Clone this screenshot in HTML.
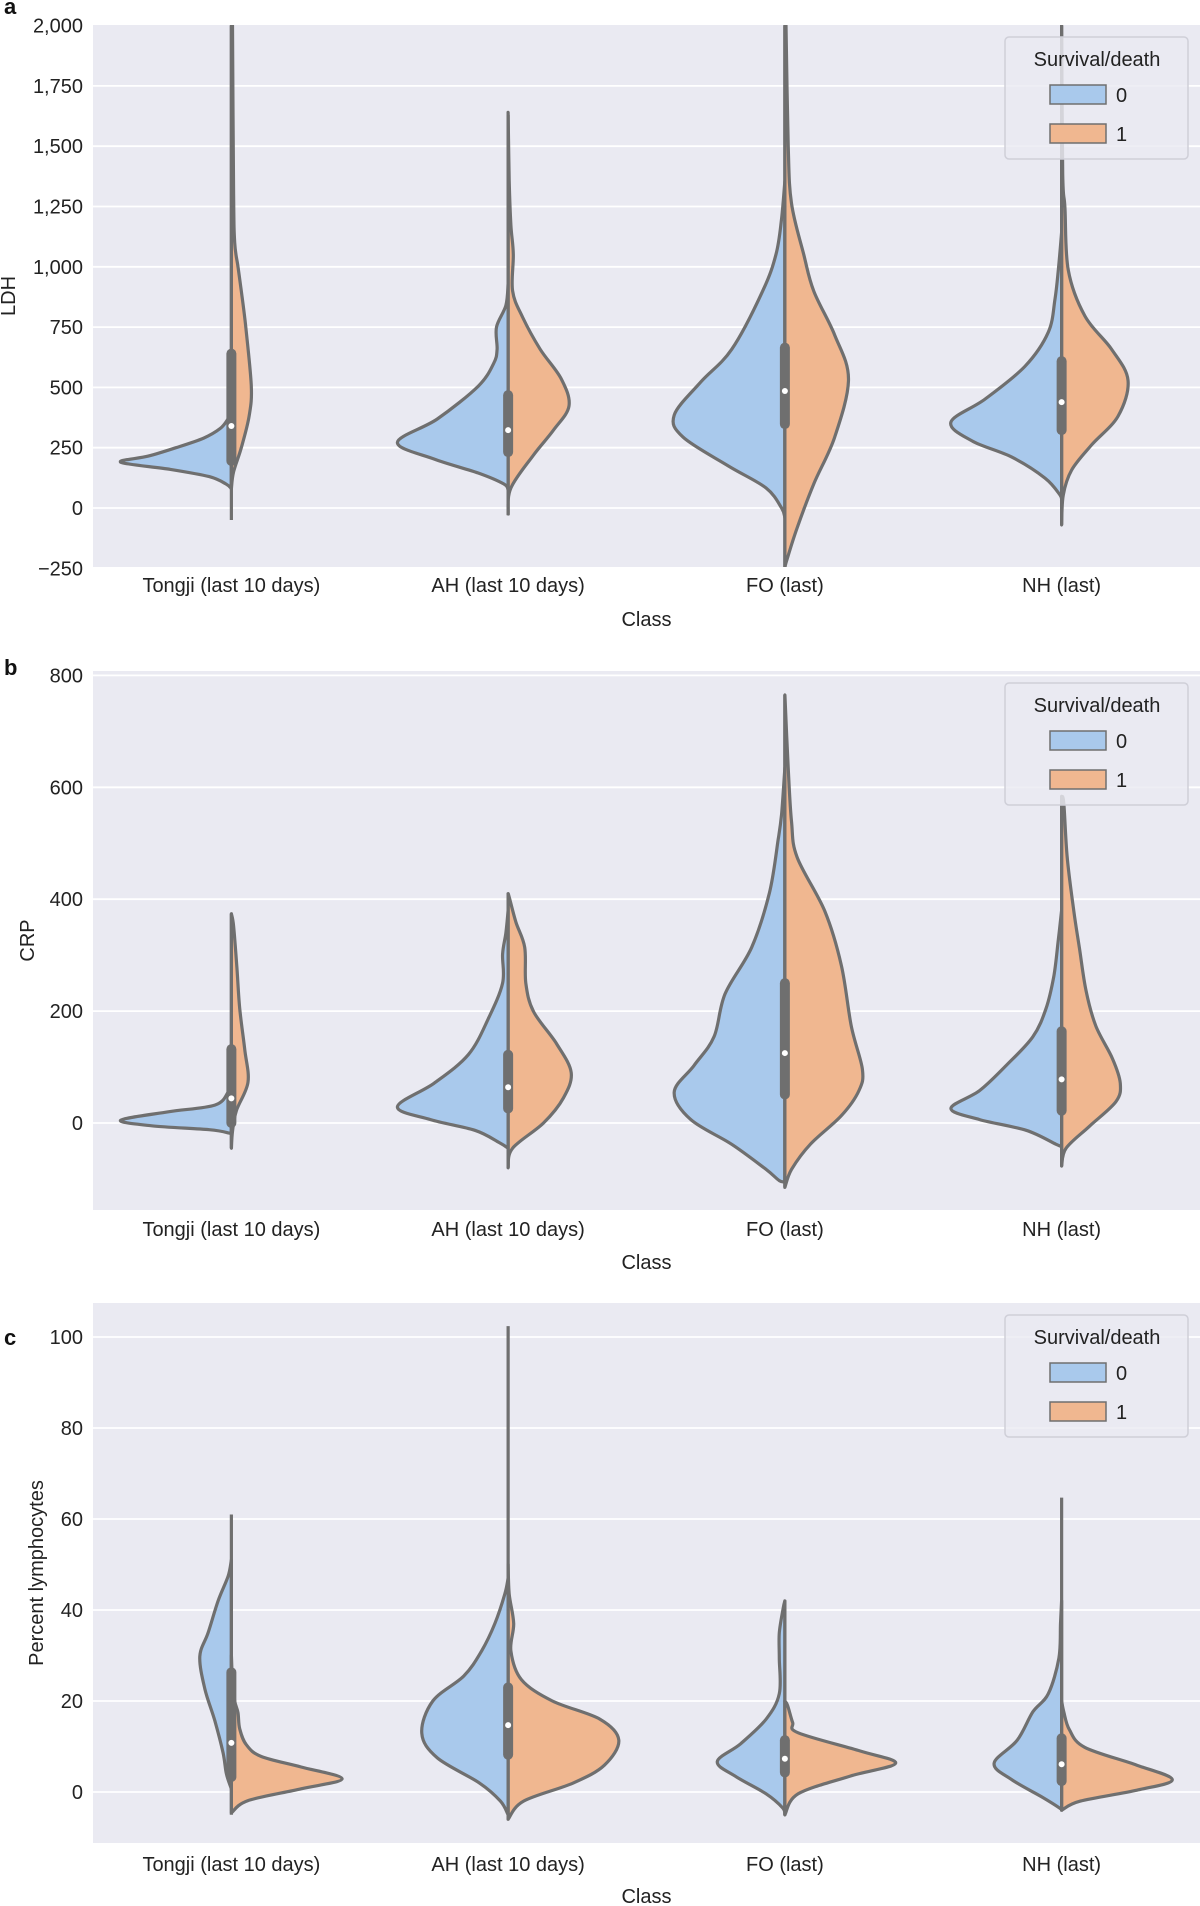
<!DOCTYPE html>
<html><head><meta charset="utf-8"><style>
html,body{margin:0;padding:0;background:#fff;}
svg{display:block;font-family:"Liberation Sans",Arial,sans-serif;}
</style></head><body>
<svg id="chart" width="1200" height="1906" viewBox="0 0 1200 1906" xmlns="http://www.w3.org/2000/svg"></svg>
<script>
const categories = ["Tongji (last 10 days)","AH (last 10 days)","FO (last)","NH (last)"];
const hueLabels = ["0","1"];

// Panel a: LDH  [value, relative density]
const ldhBlue = [
 [[80,0],[100,0.05],[130,0.2],[160,0.55],[190,1.0],[215,0.75],[250,0.5],[290,0.25],[330,0.1],[370,0.03],[400,0]],
 [[75,0],[100,0.04],[145,0.27],[203,0.67],[272,1.0],[369,0.64],[505,0.27],[600,0.13],[658,0.1],[750,0.105],[840,0.02],[930,0]],
 [[-40,0],[0,0.03],[83,0.17],[174,0.51],[294,0.92],[385,1.0],[522,0.76],[658,0.48],[900,0.2],[1052,0.08],[1200,0.03],[1355,0]],
 [[30,0],[54,0.015],[124,0.15],[211,0.45],[278,0.81],[356,1.0],[452,0.69],[588,0.33],[729,0.12],[866,0.06],[986,0.03],[1143,0]]
];
const ldhOrange = [
 [[80,0],[150,0.02],[250,0.09],[380,0.16],[505,0.18],[750,0.13],[900,0.09],[1000,0.06],[1100,0.03],[1300,0.02],[2000,0.01]],
 [[-25,0],[83,0.025],[220,0.23],[323,0.41],[423,0.55],[535,0.48],[658,0.29],[792,0.13],[900,0.04],[1052,0.047],[1172,0.025],[1355,0.01],[1640,0]],
 [[-250,0],[-220,0.015],[-83,0.11],[99,0.26],[294,0.45],[535,0.575],[717,0.45],[900,0.26],[1052,0.17],[1263,0.06],[1504,0.03],[2000,0.01]],
 [[-70,0],[54,0.015],[157,0.09],[261,0.27],[381,0.51],[530,0.6],[659,0.45],[796,0.21],[986,0.06],[1247,0.03],[1384,0.01],[2000,0]]
];
// box: q1, median, q3, whiskerMin, whiskerMax
const ldhBox = [[195,340,640,-50,2000],[232,323,468,-30,1630],[348,485,665,-250,2000],[323,439,609,-70,2000]];
const ldhTicks = [-250,0,250,500,750,1000,1250,1500,1750,2000];
const ldhTickLabels = ["\u2212250","0","250","500","750","1,000","1,250","1,500","1,750","2,000"];

// Panel b: CRP
const crpBlue = [
 [[-20,0],[-18,0.02],[-12,0.2],[-5,0.72],[5,1.0],[20,0.57],[32,0.15],[55,0.03],[70,0]],
 [[-45,0],[-35,0.08],[-13,0.3],[6,0.7],[29,1.0],[71,0.67],[122,0.36],[186,0.18],[250,0.05],[302,0.05],[340,0.02],[380,0]],
 [[-105,0],[-103,0.05],[-83,0.17],[-38,0.48],[6,0.85],[55,1.0],[103,0.82],[154,0.64],[231,0.54],[314,0.3],[411,0.14],[507,0.06],[552,0.03],[635,0]],
 [[-42,0],[-38,0.05],[-13,0.32],[6,0.74],[26,1.0],[58,0.74],[103,0.5],[154,0.26],[205,0.14],[263,0.07],[327,0.03],[380,0]]
];
const crpOrange = [
 [[-45,0],[-15,0.01],[22,0.045],[73,0.15],[132,0.12],[205,0.075],[278,0.05],[352,0.02],[374,0]],
 [[-80,0],[-45,0.04],[0,0.32],[45,0.5],[90,0.57],[141,0.44],[199,0.23],[250,0.16],[314,0.15],[359,0.07],[404,0.01],[410,0]],
 [[-115,0],[-83,0.06],[-38,0.23],[13,0.51],[58,0.67],[96,0.7],[173,0.6],[282,0.51],[379,0.36],[475,0.11],[539,0.06],[635,0.03],[765,0]],
 [[-77,0],[-45,0.04],[-6,0.25],[38,0.49],[71,0.53],[115,0.46],[173,0.31],[237,0.22],[314,0.16],[379,0.11],[475,0.05],[571,0.02],[584,0]]
];
const crpBox = [[0,44,132,-45,374],[26,64,122,-80,410],[51,125,250,-115,765],[22,78,164,-77,580]];
const crpTicks = [0,200,400,600,800];
const crpTickLabels = ["0","200","400","600","800"];

// Panel c: Percent lymphocytes
const lymBlue = [
 [[0.7,0],[4,0.045],[8.6,0.075],[15.7,0.15],[22.7,0.24],[29.8,0.285],[35,0.21],[42,0.12],[47.4,0.03],[51,0]],
 [[-5,0],[-2,0.07],[2,0.26],[7.5,0.64],[12.9,0.78],[20,0.68],[25.5,0.4],[31,0.24],[37,0.12],[43.5,0.03],[47,0]],
 [[-5,0],[-3.5,0.02],[-0.4,0.17],[3.5,0.45],[6.7,0.61],[10.6,0.4],[16,0.17],[21.6,0.05],[29.4,0.05],[35,0.05],[40.4,0.015],[42,0]],
 [[-4,0],[-3.5,0.02],[-1.2,0.17],[2.7,0.45],[6.3,0.61],[11.4,0.4],[17.6,0.26],[21.6,0.12],[29.4,0.025],[37,0.01],[42,0]]
];
const lymOrange = [
 [[-4.6,0],[-1.9,0.15],[0.7,0.63],[2.9,1.0],[5.5,0.63],[7.8,0.27],[10.4,0.135],[13.9,0.075],[17.4,0.06],[20,0.03],[24.5,0.01],[30,0]],
 [[-6,0],[-2,0.14],[2,0.59],[5.9,0.87],[11.4,1.0],[16,0.83],[20,0.4],[24.7,0.12],[31,0.025],[37,0.05],[43.5,0.01],[50,0]],
 [[-5,0],[-0.4,0.12],[3.5,0.59],[6.3,1.0],[9,0.68],[13,0.12],[15.3,0.07],[19,0.025],[20,0]],
 [[-4,0],[-2,0.17],[0.4,0.68],[2.7,1.0],[5.9,0.68],[9.8,0.21],[13.7,0.07],[17.6,0.02],[20,0]]
];
const lymBox = [[3.3,10.8,26.3,-5,61],[8.2,14.7,23,-6,102.4],[4.3,7.3,11.4,-5,42],[2.4,6.1,11.8,-4,64.7]];
const lymTicks = [0,20,40,60,80,100];
const lymTickLabels = ["0","20","40","60","80","100"];

const NS = "http://www.w3.org/2000/svg";
const svg = document.getElementById("chart");
const BLUE = "#a9c9ec", ORANGE = "#f0b790", EDGE = "#6f6f6f";
const FS = 20;

function mk(tag, attrs, parent) {
  const e = document.createElementNS(NS, tag);
  for (const k in attrs) e.setAttribute(k, attrs[k]);
  (parent || svg).appendChild(e);
  return e;
}
function txt(str, attrs, parent) { const t = mk("text", attrs, parent); t.textContent = str; return t; }

function smoothPath(pts) {
  let d = "M" + pts[0][0].toFixed(1) + "," + pts[0][1].toFixed(1);
  for (let i = 0; i < pts.length - 1; i++) {
    const p0 = pts[i - 1] || pts[i], p1 = pts[i], p2 = pts[i + 1], p3 = pts[i + 2] || p2;
    const c1x = p1[0] + (p2[0] - p0[0]) / 6, c1y = p1[1] + (p2[1] - p0[1]) / 6;
    const c2x = p2[0] - (p3[0] - p1[0]) / 6, c2y = p2[1] - (p3[1] - p1[1]) / 6;
    d += " C" + c1x.toFixed(1) + "," + c1y.toFixed(1) + " " + c2x.toFixed(1) + "," + c2y.toFixed(1) + " " + p2[0].toFixed(1) + "," + p2[1].toFixed(1);
  }
  return d;
}

const X0 = 93, X1 = 1200;
const band = (X1 - X0) / categories.length;
const HALF = band * 0.4;
function xCenter(i) { return X0 + band * (i + 0.5); }

function drawPanel(cfg) {
  const g = mk("g", {});
  
  
  const y = v => cfg.zeroY - v * cfg.pxPerUnit;
  const bg = mk("rect", {x: X0, y: cfg.top, width: X1 - X0, height: cfg.bottom - cfg.top, fill: "#eaeaf2"}, g);
  
  
  const clipId = "clip-" + cfg.name;
  const cp = mk("clipPath", {id: clipId}, g);
  mk("rect", {x: X0, y: cfg.top, width: X1 - X0, height: cfg.bottom - cfg.top}, cp);
  cfg.ticks.forEach((t, i) => {
    const yy = y(t);
    if (yy > cfg.top + 1 && yy < cfg.bottom - 1) {
      const gl = mk("line", {x1: X0, x2: X1, y1: yy, y2: yy, stroke: "#fff", "stroke-width": 1.8}, g);
      
      
    }
    const tl = txt(cfg.tickLabels[i], {x: 83, y: yy + 7, "text-anchor": "end", "font-size": FS, fill: "#222"}, g);
    
    
  });
  const vg = mk("g", {"clip-path": "url(#" + clipId + ")"}, g);
  categories.forEach((c, i) => {
    const cx = xCenter(i);
    [[cfg.blue[i], -1, BLUE, "survival"], [cfg.orange[i], 1, ORANGE, "death"]].forEach(([arr, dir, col, nm]) => {
      const pts = arr.map(p => [cx + dir * p[1] * HALF, y(p[0])]);
      const d = smoothPath(pts) + " L" + cx + "," + y(arr[arr.length - 1][0]) + " L" + cx + "," + y(arr[0][0]) + " Z";
      const path = mk("path", {d: d, fill: col, stroke: EDGE, "stroke-width": 3.2, "stroke-linejoin": "round"}, vg);
      
      
    });
    const b = cfg.box[i];
    const wh = mk("line", {x1: cx, x2: cx, y1: y(b[3]), y2: y(b[4]), stroke: EDGE, "stroke-width": 3.2}, vg);
    
    
    const bx = mk("line", {x1: cx, x2: cx, y1: y(b[0]), y2: y(b[2]), stroke: EDGE, "stroke-width": 10, "stroke-linecap": "round"}, vg);
    
    
    const md = mk("circle", {cx: cx, cy: y(b[1]), r: 3, fill: "#fff"}, vg);
    
    
    const xl = txt(c, {x: cx, y: cfg.tickY, "text-anchor": "middle", "font-size": FS, fill: "#222"}, g);
    
    
  });
  const xt = txt("Class", {x: (X0 + X1) / 2, y: cfg.classY, "text-anchor": "middle", "font-size": FS, fill: "#222"}, g);
  
  
  const cyl = (cfg.top + cfg.bottom) / 2 + cfg.ylabelShift;
  const yt = txt(cfg.ylabel, {x: cfg.ylabelX, y: cyl, "text-anchor": "middle", "font-size": FS, fill: "#222", transform: "rotate(-90 " + cfg.ylabelX + " " + cyl + ")"}, g);
  
  
  const pl = txt(cfg.letter, {x: 4, y: cfg.letterY, "font-size": 22, "font-weight": "bold", fill: "#111"}, g);
  
  
  // legend
  const lt = cfg.top + 12;
  const lg = mk("g", {}, g);
  
  
  mk("rect", {x: 1005, y: lt, width: 183, height: 122, rx: 4, fill: "rgba(234,234,242,0.82)", stroke: "#cfcfd8", "stroke-width": 1.5}, lg);
  const ltt = txt("Survival/death", {x: 1097, y: lt + 29, "text-anchor": "middle", "font-size": FS, fill: "#222"}, lg);
  
  
  [BLUE, ORANGE].forEach((col, k) => {
    const py = lt + 48 + k * 39;
    const e = mk("g", {}, lg);
    
    
    mk("rect", {x: 1050, y: py, width: 56, height: 19, fill: col, stroke: EDGE, "stroke-width": 1.5}, e);
    txt(hueLabels[k], {x: 1116, y: py + 17, "font-size": FS, fill: "#222"}, e);
  });
}

drawPanel({name: "ldh", letter: "a", letterY: 14, top: 25, bottom: 567, zeroY: 508, pxPerUnit: 60.3 / 250,
  ticks: ldhTicks, tickLabels: ldhTickLabels, blue: ldhBlue, orange: ldhOrange, box: ldhBox,
  tickY: 592, classY: 626, ylabel: "LDH", ylabelX: 15, ylabelShift: 0});
drawPanel({name: "crp", letter: "b", letterY: 675, top: 671, bottom: 1210, zeroY: 1123, pxPerUnit: 111.9 / 200,
  ticks: crpTicks, tickLabels: crpTickLabels, blue: crpBlue, orange: crpOrange, box: crpBox,
  tickY: 1236, classY: 1269, ylabel: "CRP", ylabelX: 34, ylabelShift: 0});
drawPanel({name: "lymphocytes", letter: "c", letterY: 1345, top: 1303, bottom: 1843, zeroY: 1792, pxPerUnit: 91 / 20,
  ticks: lymTicks, tickLabels: lymTickLabels, blue: lymBlue, orange: lymOrange, box: lymBox,
  tickY: 1871, classY: 1903, ylabel: "Percent lymphocytes", ylabelX: 43, ylabelShift: 0});
</script>
</body></html>
